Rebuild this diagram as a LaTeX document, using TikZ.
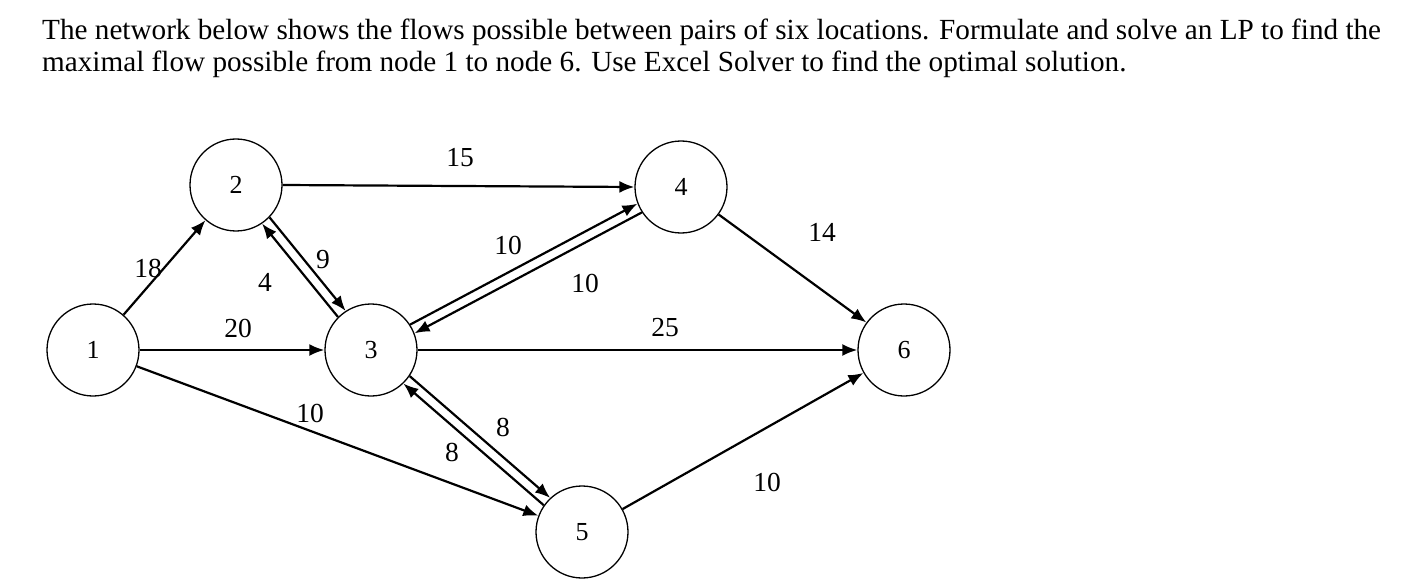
\documentclass[tikz,border=0pt]{standalone}
\usepackage{fontspec}
\setmainfont{Liberation Serif}
\usetikzlibrary{arrows.meta}
\begin{document}
\begin{tikzpicture}[x=1pt,y=-1pt,
  vert/.style={draw,circle,line width=1.3pt,minimum size=92pt,inner sep=0pt,font=\fontsize{26}{26}\selectfont},
  arc/.style={line width=2.2pt,-{Latex[length=15pt,width=12pt]}},
  lbl/.style={font=\fontsize{27.5}{27.5}\selectfont,inner sep=0pt}]
\useasboundingbox (0,0) rectangle (1410,588);
\node[anchor=north west,align=left,inner sep=0pt,font=\fontsize{29.2}{32}\selectfont] (title) at (42,19)
 {The network below shows the flows possible between pairs of six locations. Formulate and solve an LP to find the\\
 maximal flow possible from node 1 to node 6. Use Excel Solver to find the optimal solution.};
\node[vert] (n1) at (93,350) {1};
\node[vert] (n2) at (236,185) {2};
\node[vert] (n3) at (371,350) {3};
\node[vert] (n4) at (681,187) {4};
\node[vert] (n5) at (582,532) {5};
\node[vert] (n6) at (904,350) {6};
\draw[arc] (n1) -- (n2);
\draw[arc] (n1) -- (n3);
\draw[arc] (n1) -- (n5);
\draw[arc] (n2.0) -- (n4.180);
\draw[arc] (n2.-44.7) -- (n3.123.3);
\draw[arc] (n3.135.3) -- (n2.-56.7);
\draw[arc] (n3.33.7) -- (n4.201.7);
\draw[arc] (n4.213.7) -- (n3.21.7);
\draw[arc] (n3.-34.8) -- (n5.133.2);
\draw[arc] (n5.145.2) -- (n3.-46.8);
\draw[arc] (n3) -- (n6);
\draw[arc] (n4) -- (n6);
\draw[arc] (n5) -- (n6);
\node[lbl] (l12) at (148,268) {18};
\node[lbl] (l32) at (265,282) {4};
\node[lbl] (l23) at (323,260) {9};
\node[lbl] (l13) at (238,328) {20};
\node[lbl] (l24) at (460,158) {15};
\node[lbl] (l34) at (508,245) {10};
\node[lbl] (l43) at (585,283) {10};
\node[lbl] (l36) at (665,328) {25};
\node[lbl] (l46) at (822,232) {14};
\node[lbl] (l15) at (310,413) {10};
\node[lbl] (l53) at (452,452) {8};
\node[lbl] (l35) at (503,427) {8};
\node[lbl] (l56) at (767,482) {10};
\end{tikzpicture}
\end{document}
